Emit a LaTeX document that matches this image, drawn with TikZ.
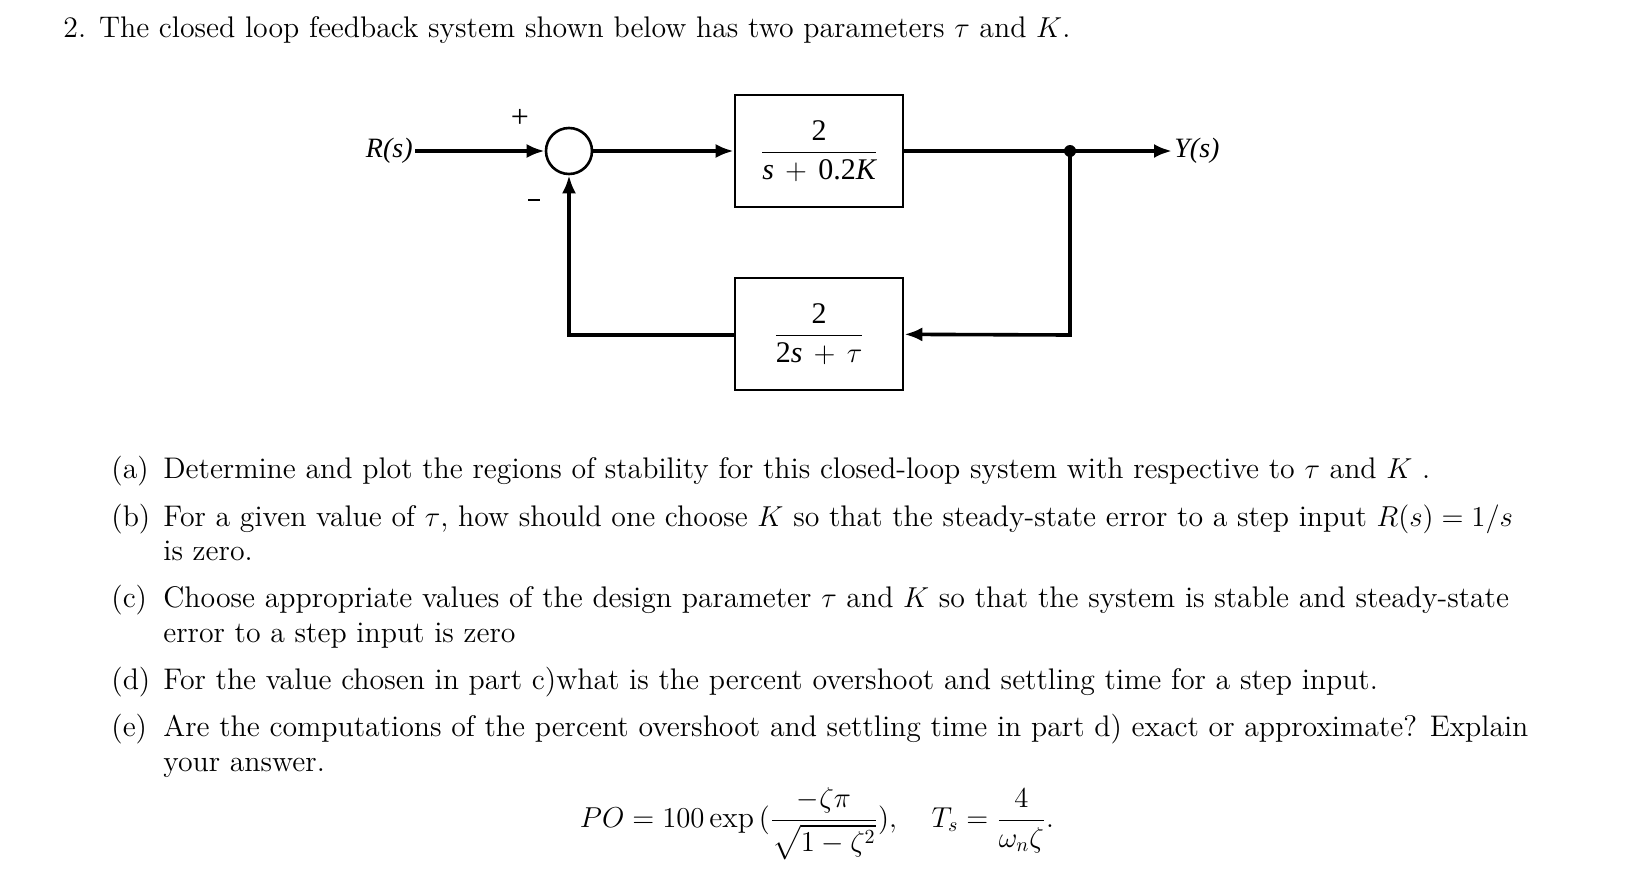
\documentclass[tikz,border=0pt]{standalone}
\usepackage{fontspec}
\usepackage{amsmath}
\usetikzlibrary{arrows.meta}
\newfontfamily\diag{Liberation Serif}
\begin{document}
\begin{tikzpicture}[x=0.5pt,y=-0.5pt,
  txt/.style={anchor=base west,inner sep=0,font=\fontsize{14.9}{18}\selectfont},
  blk/.style={draw,line width=1.3pt,minimum width=84pt,minimum height=56pt,inner sep=0,font=\diag\fontsize{15}{18}\selectfont},
  sig/.style={line width=1.8pt},
  arr/.style={sig,-{Latex[length=9pt,width=7pt]}},
  dlab/.style={font=\diag\itshape\fontsize{14}{16}\selectfont,inner sep=1pt}]
\useasboundingbox (0,0) rectangle (1644,884);
\node[txt] (title) at (63,37) {2. The closed loop feedback system shown below has two parameters $\tau$ and $K$.};
% diagram
\node[draw,circle,line width=1.3pt,minimum size=23pt,inner sep=0] (sum) at (569,151) {};
\node[blk] (G) at (819,151) {$\dfrac{\text{2}}{\textit{s}\,+\,\text{0.2}\textit{K}}$};
\node[blk] (H) at (819,334) {$\dfrac{\text{2}}{\text{2}\textit{s}\,+\,\tau}$};
\node[dlab,anchor=east] (R) at (415,151) {R(s)};
\node[dlab,anchor=west] (Y) at (1172,151) {Y(s)};
\coordinate (br) at (1070,151);
\coordinate (fr) at (1070,335);
\coordinate (fl) at (569,335);
\node[font=\diag\fontsize{16}{18}\selectfont] (plus) at (520,118) {+};
\node[fill,minimum width=6pt,minimum height=1.2pt,inner sep=0] (minus) at (534,200) {};
\draw[arr] (R) -- (sum);
\draw[arr] (sum) -- (G);
\draw[arr] (G) -- (Y.west);
\fill (br) circle (3pt);
\draw[arr] (br) -- (fr) -- (H);
\draw[arr] (H.west |- fl) -- (fl) -- (sum);
% questions
\node[txt] (la) at (111,478) {(a)};
\node[txt] (ta) at (163,478) {Determine and plot the regions of stability for this closed-loop system with respective to $\tau$ and $K$ .};
\node[txt] (lb) at (111,526) {(b)};
\node[txt] (tb) at (163,526) {For a given value of $\tau$, how should one choose $K$ so that the steady-state error to a step input $R(s)=1/s$};
\node[txt] (tb2) at (163,560) {is zero.};
\node[txt] (lc) at (111,607) {(c)};
\node[txt] (tc) at (163,607) {Choose appropriate values of the design parameter $\tau$ and $K$ so that the system is stable and steady-state};
\node[txt] (tc2) at (163,642) {error to a step input is zero};
\node[txt] (ld) at (111,689) {(d)};
\node[txt] (td) at (163,689) {For the value chosen in part c)what is the percent overshoot and settling time for a step input.};
\node[txt] (le) at (111,736) {(e)};
\node[txt] (te) at (163,736) {Are the computations of the percent overshoot and settling time in part d) exact or approximate? Explain};
\node[txt] (te2) at (163,771) {your answer.};
\node[inner sep=0,font=\fontsize{14.9}{18}\selectfont] (eq) at (817,824) {$PO=100\exp{(\dfrac{-\zeta\pi}{\sqrt{1-\zeta^2}})},\quad T_s=\dfrac{4}{\omega_n\zeta}.$};
\end{tikzpicture}
\end{document}
